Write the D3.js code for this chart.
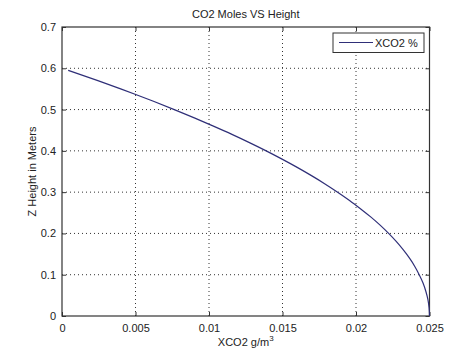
<!DOCTYPE html>
<html><head><meta charset="utf-8">
<script src="https://cdn.jsdelivr.net/npm/d3@7"></script>
<style>
body{margin:0;background:#fff;}
text{font-family:"Liberation Sans",Arial,sans-serif;fill:#222;}
</style></head>
<body><svg id="c" width="474" height="355"></svg>
<script>
const xco2 = [0.00042,0.00244,0.00399,0.00497,0.00622,0.00764,0.009,0.0103,0.01156,0.01275,0.01389,0.01497,0.016,0.01697,0.01789,0.01875,0.01956,0.0203,0.021,0.02164,0.02222,0.02275,0.02322,0.02364,0.024,0.0243,0.02456,0.02475,0.02489,0.02497,0.025];
const height = [0.595,0.57,0.55,0.537,0.52,0.50,0.48,0.46,0.44,0.42,0.40,0.38,0.36,0.34,0.32,0.30,0.28,0.26,0.24,0.22,0.20,0.18,0.16,0.14,0.12,0.10,0.08,0.06,0.04,0.02,0];
const xTicks = [0,0.005,0.01,0.015,0.02,0.025];
const yTicks = [0,0.1,0.2,0.3,0.4,0.5,0.6,0.7];
const title = "CO2 Moles VS Height";
const seriesName = "XCO2 %";

const svg = d3.select("#c");
const L=62,R=429.5,T=27,B=316;
const x = d3.scaleLinear().domain([0,0.025]).range([L,R]);
const y = d3.scaleLinear().domain([0,0.7]).range([B,T]);
const fmt = d => String(d);

// grid
const g = svg.append("g");
g.selectAll(".vx").data(xTicks.slice(1,-1)).enter().append("line")
 .attr("x1",d=>x(d)).attr("x2",d=>x(d)).attr("y1",T).attr("y2",B)
 .attr("stroke","#333").attr("stroke-width",1).attr("stroke-dasharray","1,3");
g.selectAll(".hy").data(yTicks.slice(1,-1)).enter().append("line")
 .attr("y1",d=>y(d)).attr("y2",d=>y(d)).attr("x1",L).attr("x2",R)
 .attr("stroke","#333").attr("stroke-width",1).attr("stroke-dasharray","1,3");

// axes
const ax = svg.append("g").attr("transform",`translate(0,${B})`)
 .call(d3.axisBottom(x).tickValues(xTicks).tickFormat(fmt).tickSizeInner(-4).tickSizeOuter(0).tickPadding(8));
const axT = svg.append("g").attr("transform",`translate(0,${T})`)
 .call(d3.axisTop(x).tickValues(xTicks).tickFormat("").tickSizeInner(-4).tickSizeOuter(0));
const ay = svg.append("g").attr("transform",`translate(${L},0)`)
 .call(d3.axisLeft(y).tickValues(yTicks).tickFormat(fmt).tickSizeInner(-4).tickSizeOuter(0).tickPadding(6));
const ayR = svg.append("g").attr("transform",`translate(${R},0)`)
 .call(d3.axisRight(y).tickValues(yTicks).tickFormat("").tickSizeInner(-4).tickSizeOuter(0));
[ax,axT,ay,ayR].forEach(a=>{
  a.select(".domain").remove();
  a.selectAll(".tick line").attr("stroke","#333");
  a.selectAll("text").style("font-size","11px").attr("fill","#333");
});
svg.append("rect").attr("x",L).attr("y",T).attr("width",R-L).attr("height",B-T)
 .attr("fill","none").attr("stroke","#333").attr("stroke-width",1.2);

// line
const pts = xco2.map((v,i)=>[v,height[i]]);
svg.append("path").datum(pts)
 .attr("d",d3.line().x(d=>x(d[0])).y(d=>y(d[1])).curve(d3.curveMonotoneY))
 .attr("fill","none").attr("stroke","#2f2f78").attr("stroke-width",1.2);

// title & labels
svg.append("text").attr("x",(L+R)/2).attr("y",18).attr("text-anchor","middle")
 .style("font-size","11px").text(title);
const xl = svg.append("text").attr("x",(L+R)/2).attr("y",346).attr("text-anchor","middle").style("font-size","11px");
xl.append("tspan").text("XCO2 g/m");
xl.append("tspan").attr("dy",-5).style("font-size","8px").text("3");
svg.append("text").attr("transform",`translate(36,${(T+B)/2}) rotate(-90)`).attr("text-anchor","middle")
 .style("font-size","11px").text("Z Height in Meters");

// legend
svg.append("rect").attr("x",333).attr("y",33).attr("width",91).attr("height",19.5)
 .attr("fill","#fff").attr("stroke","#333").attr("stroke-width",1);
svg.append("line").attr("x1",339).attr("x2",373).attr("y1",42.5).attr("y2",42.5)
 .attr("stroke","#2f2f78").attr("stroke-width",1.2);
svg.append("text").attr("x",375).attr("y",47).style("font-size","11px").text(seriesName);
</script></body></html>
